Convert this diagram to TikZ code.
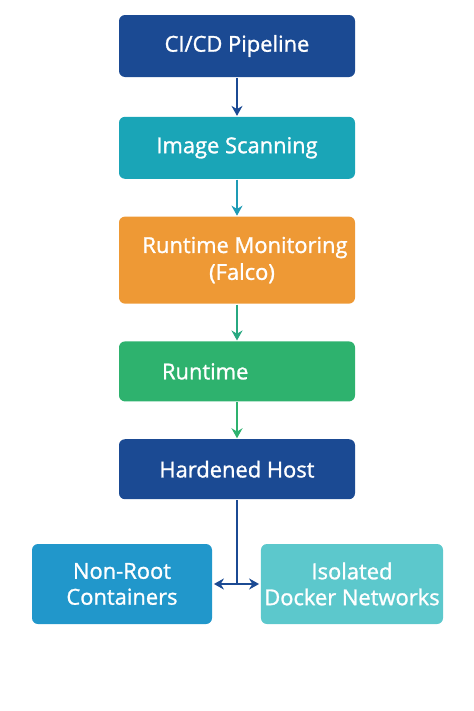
\documentclass[tikz,border=0pt]{standalone}
\usepackage{fontspec}
\setmainfont{Open Sans}
\newfontfamily\boxfont{Open Sans}[FakeBold=1.2]
\usepackage{tikz}
\usetikzlibrary{arrows.meta}
\usetikzlibrary{positioning}

\definecolor{hostblue}{HTML}{1B4A93}
\definecolor{scanteal}{HTML}{1AA5B7}
\definecolor{falcoorange}{HTML}{EE9935}
\definecolor{rtgreen}{HTML}{2EB26E}
\definecolor{rootblue}{HTML}{2197CB}
\definecolor{netcyan}{HTML}{5CC8CC}
\definecolor{arrowteal}{HTML}{1E9BB5}
\definecolor{arrowmint}{HTML}{27A880}

\begin{document}
\begin{tikzpicture}[->,>={Stealth[length=10bp,width=11bp]},line width=1.8bp,node distance=37bp,
    main node/.style={rectangle,rounded corners=6bp,text=white,minimum width=236bp,minimum height=62bp,align=center,
        font=\boxfont\fontsize{22}{27}\selectfont}]

    \useasboundingbox (0,0) rectangle (474bp,-711bp);

    \node[main node,fill=hostblue] (cicd) at (237bp,-46bp) {CI/CD Pipeline};
    \node[main node,fill=scanteal] (scan) [below=38bp of cicd] {Image Scanning};
    \node[main node,fill=falcoorange,minimum height=87bp] (falco) [below=36bp of scan] {\hspace*{16bp}Runtime Monitoring\\\hspace*{10bp}(Falco)};
    \node[main node,fill=rtgreen,minimum height=60bp,text width=150bp,inner xsep=43bp,align=left] (runtime) [below=36bp of falco] {Runtime};
    \node[main node,fill=hostblue,minimum height=60bp] (host) [below=36bp of runtime] {Hardened Host};

    \node[main node,fill=rootblue,minimum width=180bp,minimum height=80bp,font=\boxfont\fontsize{22}{26}\selectfont]
        (nonroot) [below=43bp of host,xshift=-115bp] {Non-Root\\Containers};
    \node[main node,fill=netcyan,minimum width=181bp,minimum height=80bp,font=\boxfont\fontsize{22}{26}\selectfont]
        (isolated) [below=43bp of host,xshift=115bp] {Isolated\\Docker Networks};

    \coordinate (split) at (host.south |- nonroot.east);

    \path (cicd) edge[draw=hostblue] (scan)
        (scan) edge[draw=arrowteal] (falco)
        (falco) edge[draw=arrowmint] (runtime)
        (runtime.south -| host.north) edge[draw=rtgreen] (host);
    \draw[-,hostblue] (host.south) -- (split);
    \draw[<->,hostblue] ([xshift=1bp]nonroot.east) -- ([xshift=-1bp]isolated.west);

\end{tikzpicture}
\end{document}
